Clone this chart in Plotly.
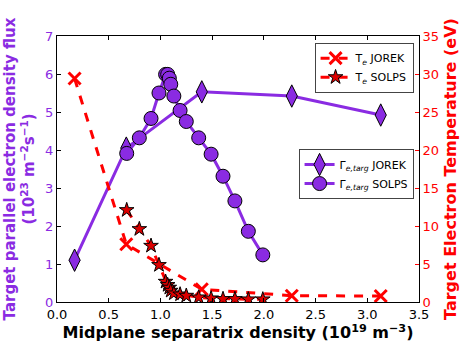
import plotly.graph_objects as go

# Data
jorek_n = [0.17, 0.67, 1.40, 2.27, 3.13]
jorek_flux = [1.10, 4.05, 5.53, 5.42, 4.92]
jorek_te = [29.4, 7.6, 1.67, 0.83, 0.79]

solps_n = [0.674, 0.796, 0.909, 0.986, 1.05, 1.07, 1.086, 1.10, 1.13, 1.19, 1.25,
           1.37, 1.49, 1.605, 1.72, 1.85, 1.99]
solps_flux = [3.91, 4.32, 4.83, 5.50, 5.99, 5.99, 5.89, 5.73, 5.42, 5.04, 4.75,
              4.32, 3.89, 3.31, 2.66, 1.86, 1.24]
solps_te = [12.1, 9.6, 7.4, 4.87, 2.67, 2.24, 1.89, 1.49, 1.14, 1.0, 0.83,
            0.61, 0.48, 0.40, 0.40, 0.35, 0.35]

x_ticks = [0.0, 0.5, 1.0, 1.5, 2.0, 2.5, 3.0, 3.5]

PURPLE = "#8a2be2"
RED = "#ff0000"
FONT = "DejaVu Sans"

fig = go.Figure()

fig.add_trace(go.Scatter(
    x=jorek_n, y=jorek_flux, mode="lines+markers", name="Γ<sub><i>e,targ</i></sub> JOREK",
    line=dict(color=PURPLE, width=3),
    marker=dict(symbol="diamond-tall", size=16, color=PURPLE, line=dict(color="black", width=1)),
    legend="legend2", yaxis="y"))
fig.add_trace(go.Scatter(
    x=solps_n, y=solps_flux, mode="lines+markers", name="Γ<sub><i>e,targ</i></sub> SOLPS",
    line=dict(color=PURPLE, width=3),
    marker=dict(symbol="circle", size=14, color=PURPLE, line=dict(color="black", width=1)),
    legend="legend2", yaxis="y"))
fig.add_trace(go.Scatter(
    x=jorek_n, y=jorek_te, mode="lines+markers", name="T<sub><i>e</i></sub> JOREK",
    line=dict(color=RED, width=3, dash="dash"),
    marker=dict(symbol="x-thin", size=12, color=RED, line=dict(color=RED, width=3)),
    legend="legend", yaxis="y2"))
fig.add_trace(go.Scatter(
    x=solps_n, y=solps_te, mode="lines+markers", name="T<sub><i>e</i></sub> SOLPS",
    line=dict(color=RED, width=3, dash="dash"),
    marker=dict(symbol="star", size=11, color="#dd0000", line=dict(color="black", width=1)),
    legend="legend", yaxis="y2"))

fig.update_layout(
    width=474, height=351,
    margin=dict(l=57, r=55, t=36, b=49),
    paper_bgcolor="white", plot_bgcolor="white",
    font=dict(family=FONT, size=13, color="black"),
    xaxis=dict(
        range=[0, 3.5], tickvals=x_ticks, tickformat=".1f", automargin=False,
        ticks="inside", ticklen=4, tickcolor="black",
        showline=True, linecolor="black", linewidth=1, mirror="ticks",
        showgrid=False, zeroline=False,
        tickfont=dict(size=13, color="black"),
        title=dict(text="<b>Midplane separatrix density (10<sup>19</sup> m<sup>−3</sup>)</b>",
                   font=dict(size=16, color="black"), standoff=4),
    ),
    yaxis=dict(
        range=[0, 7], dtick=1, ticks="inside", ticklen=4, tickcolor="black",
        showline=True, linecolor="black", linewidth=1, automargin=False,
        showgrid=False, zeroline=False,
        tickfont=dict(size=13, color=PURPLE),
        title=dict(text="<b>Target parallel electron density flux<br>(10<sup>23</sup> m<sup>−2</sup>s<sup>−1</sup>)</b>",
                   font=dict(size=15, color=PURPLE), standoff=6),
    ),
    yaxis2=dict(
        range=[0, 35], dtick=5, overlaying="y", side="right", automargin=False,
        ticks="inside", ticklen=4, tickcolor=RED,
        showline=True, linecolor="black", linewidth=1,
        showgrid=False, zeroline=False,
        tickfont=dict(size=13, color=RED),
        title=dict(text="<b>Target Electron Temperature (eV)</b>",
                   font=dict(size=16, color=RED), standoff=6),
    ),
    legend=dict(
        x=0.985, y=0.975, xanchor="right", yanchor="top",
        bgcolor="white", bordercolor="#444", borderwidth=1,
        font=dict(size=11, color="black"), tracegroupgap=0, itemwidth=30,
    ),
    legend2=dict(
        x=0.985, y=0.575, xanchor="right", yanchor="top",
        bgcolor="white", bordercolor="#444", borderwidth=1,
        font=dict(size=11, color="black"), tracegroupgap=0, itemwidth=30,
    ),
)

fig.write_html("out.html")
